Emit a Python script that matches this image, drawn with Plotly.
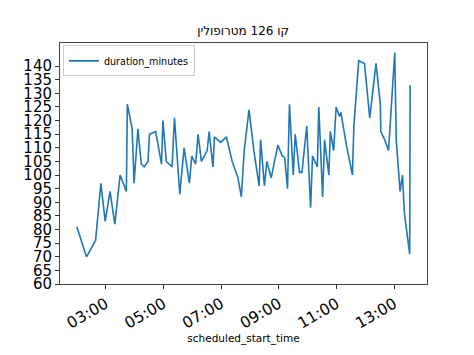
import plotly.graph_objects as go

title_text = "קו 126 מטרופולין"
series_name = "duration_minutes"
x_label = "scheduled_start_time"

times = ["02:00", "02:20", "02:39", "02:50", "02:59", "03:09", "03:19", "03:30", "03:43", "03:45",
         "03:55", "03:59", "04:07", "04:14", "04:20", "04:28", "04:31", "04:44", "04:56", "04:59",
         "05:06", "05:18", "05:23", "05:34", "05:43", "05:54", "05:59", "06:07", "06:12", "06:19",
         "06:31", "06:35", "06:43", "06:46", "06:59", "07:11", "07:23", "07:35", "07:42", "07:48",
         "07:58", "08:08", "08:19", "08:22", "08:30", "08:35", "08:44", "08:58", "09:07", "09:12",
         "09:18", "09:22", "09:30", "09:34", "09:43", "09:48", "09:58", "10:06", "10:10", "10:20",
         "10:23", "10:31", "10:35", "10:44", "10:47", "10:54", "10:59", "11:06", "11:09", "11:20",
         "11:33", "11:36", "11:46", "11:58", "12:09", "12:22", "12:31", "12:32", "12:40", "12:48",
         "13:01", "13:04", "13:12", "13:17", "13:21", "13:32", "13:33"]
durations = [81, 70, 76, 97, 83, 94, 82, 100, 94, 126,
             117, 97, 117, 104, 103, 105, 115, 116, 104, 120,
             105, 103, 121, 93, 110, 97, 107, 104, 115, 105,
             109, 116, 103, 114, 112, 114, 105, 99, 92, 109,
             124, 109, 96, 113, 96, 105, 99, 111, 107, 106.5,
             95, 126, 100, 115, 101, 101, 118, 88, 107, 103,
             125, 92, 113, 100, 116, 109, 125, 121.5, 123, 111.5,
             100, 118, 142, 141, 121, 141, 126, 116, 113, 109,
             145, 113, 94, 100, 86, 71, 133]

day = "2023-01-01 "
x_vals = [day + t for t in times]

tick_labels = ["03:00", "05:00", "07:00", "09:00", "11:00", "13:00"]
y_ticks = list(range(60, 145, 5))

fig = go.Figure()
fig.add_trace(go.Scatter(
    x=x_vals, y=durations, mode="lines", name=series_name,
    line=dict(color="#1f77b4", width=1.6),
))

fig.update_layout(
    width=474, height=355,
    margin=dict(l=60, r=47, t=43, b=71),
    paper_bgcolor="white", plot_bgcolor="white",
    font=dict(family="DejaVu Sans", color="black"),
    title=dict(text=title_text, x=0.513, xanchor="center", y=0.912, yanchor="middle",
               font=dict(size=12, color="black")),
    showlegend=True,
    legend=dict(x=0.008, y=0.99, xanchor="left", yanchor="top",
                bordercolor="#cccccc", borderwidth=1, bgcolor="white",
                font=dict(size=9.6), itemwidth=30,
                tracegroupgap=0),
)

fig.update_xaxes(
    range=[day + "01:25", day + "14:08"],
    tickmode="array",
    tickvals=[day + t for t in tick_labels],
    ticktext=tick_labels,
    tickangle=-30,
    tickfont=dict(size=15.5),
    ticks="outside", ticklen=4, tickcolor="#333",
    showline=True, linecolor="#444", linewidth=1, mirror=True,
    showgrid=False, zeroline=False,
    title=dict(text=x_label, font=dict(size=10.5), standoff=2),
    automargin=False,
)
fig.update_yaxes(
    range=[60, 148.5],
    tickmode="array", tickvals=y_ticks, ticktext=[str(v) for v in y_ticks],
    tickfont=dict(size=15),
    ticks="outside", ticklen=4, tickcolor="#333",
    showline=True, linecolor="#444", linewidth=1, mirror=True,
    showgrid=False, zeroline=False,
    automargin=False,
)

fig.write_html("out.html")
